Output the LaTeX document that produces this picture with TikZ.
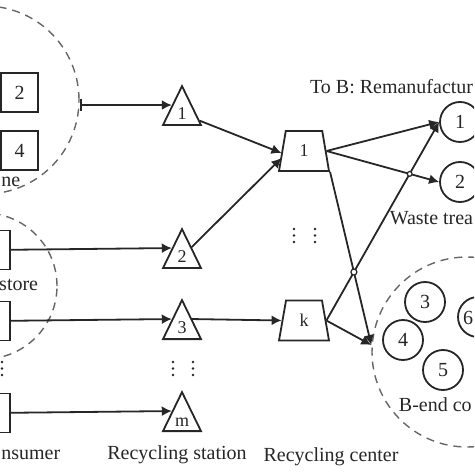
\documentclass[tikz,border=0pt]{standalone}
\usepackage{fontspec}
\setmainfont{Liberation Serif}
\usetikzlibrary{shapes.geometric,arrows.meta}

\begin{document}
\begin{tikzpicture}[x=0.5pt,y=-0.5pt,color=black!85,line width=0.9pt,
        box/.style={draw,rectangle,minimum width=18.5pt,minimum height=19.5pt,inner sep=0pt},
        station/.style={draw,isosceles triangle,shape border rotate=90,isosceles triangle apex angle=52,minimum width=19pt,minimum height=19pt,inner sep=0pt,font=\small,anchor=lower side},
        plant/.style={draw,trapezium,trapezium left angle=82,trapezium right angle=82,trapezium stretches,minimum width=25pt,minimum height=20pt,inner sep=0pt,font=\small},
        firm/.style={draw,circle,minimum size=20pt,inner sep=0pt},
        group/.style={draw=black!60,dash pattern=on 4pt off 3pt,circle,line width=0.7pt,inner sep=0pt},
        lbl/.style={inner sep=0pt},
        arr/.style={-{Latex[length=5pt,width=5pt]}},
        gap/.style={draw,fill=white,line width=0.6pt}]
            \useasboundingbox (0,0) rectangle (474,474);
            \clip (0,0) rectangle (474,474);

            % consumers
            \node[group,minimum size=94pt] (online) at (-15,100) {};
            \node[box] (b2) at (19.5,92.5) {2};
            \node[box] (b4) at (19.5,150.5) {4};
            \node[lbl,anchor=west] (onlinelbl) at (0.5,182) {ne};
            \node[group,minimum size=73pt] (store) at (-16,286) {};
            \node[box] (bs) at (-8.5,250) {};
            \node[box] (bt) at (-8.5,321) {};
            \node[lbl,anchor=east] (storelbl) at (39,285) {store};
            \node[box] (bm) at (-8.5,413) {};
            \node[lbl,anchor=west] (userlbl) at (0.5,455) {nsumer};

            % stations and centers
            \node[station] (t1) at (182,126) {1};
            \node[station] (t2) at (182,269) {2};
            \node[station] (t3) at (182,340) {3};
            \node[station] (tm) at (182,432) {m};
            \node[plant] (c1) at (304,151) {1};
            \node[plant] (ck) at (304,320.5) {k};
            \node[lbl] (stationlbl) at (177,455) {Recycling station};
            \node[lbl] (centerlbl) at (331,457) {Recycling center};

            % destinations
            \node[firm] (r1) at (460,122) {1};
            \node[firm] (r2) at (460,182) {2};
            \node[group,minimum size=95pt] (bend) at (467,352) {};
            \node[firm] (r3) at (425,302) {3};
            \node[firm] (r4) at (403,340) {4};
            \node[firm] (r5) at (443,370) {5};
            \node[firm] (r6) at (478,317) {};
            \node[lbl,anchor=east] (r6lbl) at (474,318) {6};
            \node[lbl,anchor=east] (toblbl) at (474,87) {To B: Remanufactur};
            \node[lbl,anchor=east] (wastelbl) at (474,218) {Waste trea};
            \node[lbl,anchor=west] (bendlbl) at (398,405) {B-end co};
            \coordinate (bin) at ([yshift=3.5pt]bend.west);

            \draw[{Bar[width=6pt]}-{Latex[length=5pt,width=5pt]}] (online.east |- t1.left side) to (t1.left side);
            \draw[arr] (bs) to (t2.left side); \draw[arr] (bt) to (t3.left side); \draw[arr] (bm) to (tm.left side);
            \draw[arr] (t1) to ([yshift=-1pt]c1.west); \draw[arr] (t2) to ([yshift=-3.5pt]c1.west); \draw[arr] (t3.right side) to (ck.west);
            \draw[arr] (c1.east) to (r1.west); \draw[arr] (c1.east) to (r2.west); \draw[arr] (c1.bottom right corner) to (bin);
            \draw[arr] (ck.east) to (r1.west); \draw[arr] (ck.east) to (bin);
            \draw[gap] (intersection of c1.bottom right corner--bin and ck.east--r1.west) circle (1.5pt);
            \draw[gap] (intersection of c1.east--r2.west and ck.east--r1.west) circle (1.2pt);

            \foreach \x in {173,193} \foreach \y in {362,368.5,375} \fill (\x,\y) circle (0.7pt);
            \foreach \x in {294,315} \foreach \y in {229,235.5,242} \fill (\x,\y) circle (0.7pt);
            \foreach \y in {362,368.5,375} \fill (2,\y) circle (0.7pt);
        \end{tikzpicture}
\end{document}
